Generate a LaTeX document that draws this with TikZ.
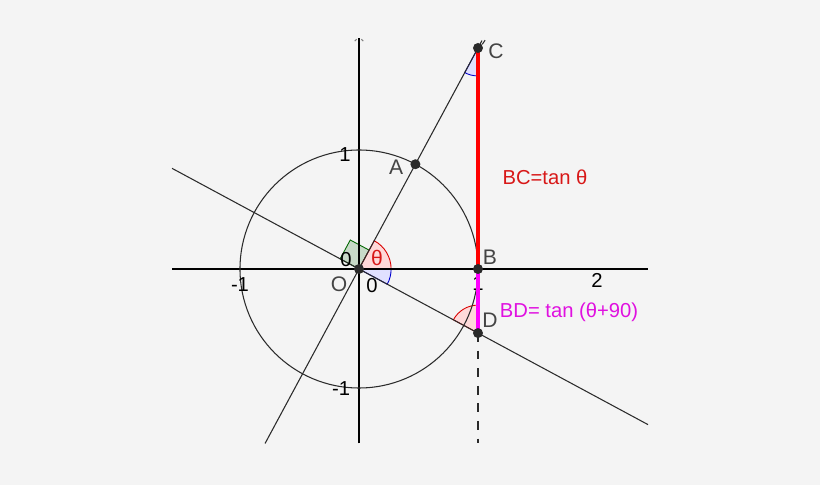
\documentclass[tikz,border=0pt]{standalone}
\usepackage{fontspec}
\setmainfont{Liberation Sans}
\usetikzlibrary{calc}
\definecolor{bg}{HTML}{F4F4F4}
\definecolor{ptlab}{HTML}{444444}
\definecolor{ln}{HTML}{2A2A2A}
\definecolor{txtred}{HTML}{D81818}
\definecolor{mag}{HTML}{FF00FF}
\definecolor{txtmag}{HTML}{E010E0}
\tikzset{
  axis/.style={black, line width=0.6pt},
  gline/.style={ln, line width=0.6pt},
  pt/.style={circle, fill=ln, inner sep=0pt, minimum size=0.2cm},
  plab/.style={text=ptlab, font=\fontsize{12}{12}\selectfont, inner sep=0pt},
  tick/.style={text=black, font=\fontsize{11.5}{11.5}\selectfont, inner sep=0pt},
  redang/.style={draw=red!85!black, fill=red!15, line width=0.5pt},
  blueang/.style={draw=blue!80!black, fill=blue!12, line width=0.5pt},
  greenang/.style={draw=green!40!black, fill=green!40!black!18!bg, line width=0.5pt}
}
\begin{document}
\begin{tikzpicture}[x=2.38cm, y=2.38cm]
\pgfmathsetmacro{\th}{61.7}
\pgfmathsetmacro{\tn}{tan(\th)}
\pgfmathsetmacro{\ct}{cot(\th)}
\fill[bg] (-3.0168,-1.8151) rectangle (3.8740,2.2605);
\useasboundingbox (-3.0168,-1.8151) rectangle (3.8740,2.2605);

\coordinate (O) at (0,0);
\coordinate (A) at (\th:1);
\coordinate (B) at (1,0);
\coordinate (C) at (1,\tn);
\coordinate (D) at (1,-\ct);
\coordinate (xl) at (-1.571,0);
\coordinate (xr) at (2.429,0);
\coordinate (yb) at (0,-1.466);
\coordinate (yt) at (0,1.94);
\coordinate (cb) at ({-1.466/\tn},-1.466);
\coordinate (ct) at ({1.92/\tn},1.92);
\coordinate (dl) at (-1.571,{1.571*\ct});
\coordinate (dr) at (2.429,{-2.429*\ct});
\coordinate (db) at (1,-1.466);

% angle marks
\draw[greenang] (O) -- (\th:0.18) -- ($(\th:0.18)+(\th+90:0.18)$) -- (\th+90:0.18) -- cycle;
\draw[redang] (O) -- (0:0.27) arc[start angle=0, end angle=\th, radius=0.27] -- cycle;
\draw[blueang] (O) -- (\th-90:0.27) arc[start angle=\th-90, end angle=0, radius=0.27] -- cycle;
\draw[blueang] (C) -- ($(C)+(\th+180:0.235)$) arc[start angle=\th+180, end angle=270, radius=0.235] -- cycle;
\draw[redang] (D) -- ($(D)+(90:0.235)$) arc[start angle=90, end angle=\th+90, radius=0.235] -- cycle;

% axes
\draw[axis] (xl) -- (xr);
\draw[axis] (yb) -- (yt);
\draw[gray, line width=0.6pt] (-0.035,1.915) -- (-0.02,1.93);
\draw[gray, line width=0.6pt] (0.035,1.915) -- (0.02,1.93);

% circle and lines
\draw[gline] (O) circle[radius=1];
\draw[gline] (cb) -- (ct);
\draw[gline] (dl) -- (dr);
\draw[gline, dash pattern=on 5pt off 5pt] (D) -- (db);
\draw[gline] ($(C)+(0.035,0.03)$) -- ($(C)+(0.06,0.065)$);

% tick labels
\node[tick] (tm1) at (-1.0,-0.134) {-1};
\node[tick] (t0) at (0.109,-0.143) {0};
\node[tick] (t1) at (1.0,-0.12) {1};
\node[tick] (t2) at (2.0,-0.10) {2};
\node[tick] (ty1) at (-0.118,0.958) {1};
\node[tick] (tym1) at (-0.151,-1.008) {-1};
\node[tick] (z0) at (-0.109,0.076) {0};

% segments
\draw[red, line width=2pt] (B) -- (C);
\draw[mag, line width=2pt] (B) -- (D);

% points
\node[pt] (pO) at (O) {};
\node[pt] (pA) at (A) {};
\node[pt] (pB) at (B) {};
\node[pt] (pC) at (C) {};
\node[pt] (pD) at (D) {};

% labels
\node[plab] (lA) at (0.313,0.857) {A};
\node[plab] (lB) at (1.10,0.10) {B};
\node[plab] (lC) at (1.151,1.832) {C};
\node[plab] (lD) at (1.10,-0.43) {D};
\node[plab] (lO) at (-0.168,-0.126) {O};
\node[text=txtred, font=\fontsize{12}{12}\selectfont, inner sep=0pt] (lth) at (0.151,0.092) {θ};
\node[text=txtred, font=\fontsize{11.5}{11.5}\selectfont, inner sep=0pt] (bc) at (1.563,0.773) {BC=tan θ};
\node[text=txtmag, font=\fontsize{11.5}{11.5}\selectfont, inner sep=0pt] (bd) at (1.765,-0.361) {BD= tan (θ+90)};
\end{tikzpicture}
\end{document}
